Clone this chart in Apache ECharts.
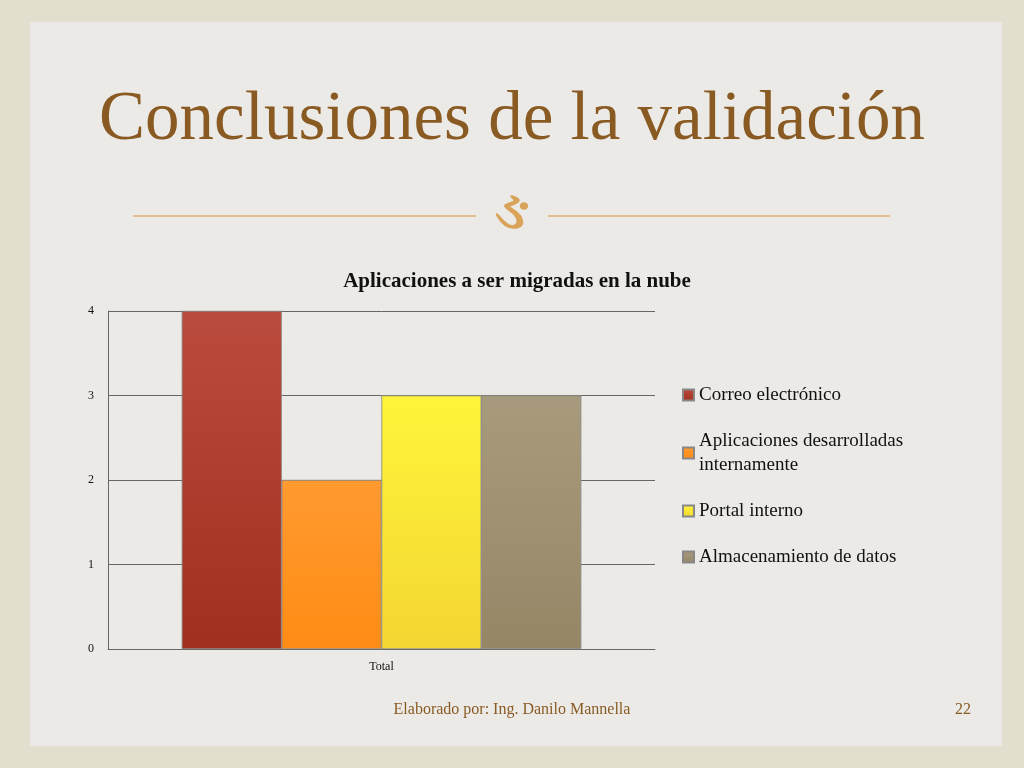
<!DOCTYPE html><html><head><meta charset="utf-8">
<script src="https://cdn.jsdelivr.net/npm/echarts@6/dist/echarts.min.js"></script>
<style>html,body{margin:0;padding:0;background:#e3dfcf}#c{width:1024px;height:768px}</style></head><body><div id="c"></div>
<script>
const categories=['Total'];
const seriesNames=['Correo electrónico','Aplicaciones desarrolladas\ninternamente','Portal interno','Almacenamiento de datos'];
const values=[[4],[2],[3],[3]];
const colors=[['#bb4b3e','#a02f1e'],['#ff9a30','#ff8c14'],['#fff53a','#f4d632'],['#a89a7c','#958766']];
const chart=echarts.init(document.getElementById('c'));
chart.setOption({
 backgroundColor:'#e3dfcf',
 graphic:[
  {type:'rect',shape:{x:30,y:22,width:972,height:724},style:{fill:'#ebeae7'},z:-10},
  {type:'text',left:'center',top:86,style:{text:'Conclusiones de la validación',font:'69px "Liberation Serif",serif',fill:'#8a5a23'}},
  {type:'line',shape:{x1:133,y1:216,x2:476,y2:216},style:{stroke:'#e0b070',lineWidth:1.5}},
  {type:'line',shape:{x1:548,y1:216,x2:890,y2:216},style:{stroke:'#e0b070',lineWidth:1.5}},
  {type:'text',x:512,y:214,style:{text:'ઙ',font:'bold 54px "DejaVu Sans",serif',fill:'#d9a35a',align:'center',verticalAlign:'middle'}},
  {type:'text',left:'center',top:702,style:{text:'Elaborado por: Ing. Danilo Mannella',font:'16px "Liberation Serif",serif',fill:'#8a5a23'}},
  {type:'text',x:955,y:702,style:{text:'22',font:'16px "Liberation Serif",serif',fill:'#8a5a23'}}
 ],
 title:{text:'Aplicaciones a ser migradas en la nube',left:512,textAlign:'center',top:266,textStyle:{fontFamily:'"Liberation Serif",serif',fontSize:21,fontWeight:'bold',color:'#111'}},
 grid:{left:108,top:311,width:547,height:338},
 legend:{orient:'vertical',left:677,top:378,itemWidth:11,itemHeight:11,itemGap:22,icon:'rect',
   textStyle:{fontFamily:'"Liberation Serif",serif',fontSize:19,color:'#111',lineHeight:24}},
 xAxis:{type:'category',data:categories,axisTick:{show:false},axisLine:{lineStyle:{color:'#666'}},
   axisLabel:{fontFamily:'"Liberation Serif",serif',fontSize:12,color:'#111',margin:12}},
 yAxis:{type:'value',min:0,max:4,interval:1,axisLine:{show:true,lineStyle:{color:'#666'}},
   splitLine:{lineStyle:{color:'#666'}},axisLabel:{fontFamily:'"Liberation Serif",serif',fontSize:12,color:'#111',margin:14}},
 series:seriesNames.map((n,i)=>({name:n,type:'bar',data:values[i],barGap:'0%',barCategoryGap:'27%',
   itemStyle:{borderColor:'#888',borderWidth:0.5,color:new echarts.graphic.LinearGradient(0,0,0,1,[{offset:0,color:colors[i][0]},{offset:1,color:colors[i][1]}])}}))
});
</script></body></html>
